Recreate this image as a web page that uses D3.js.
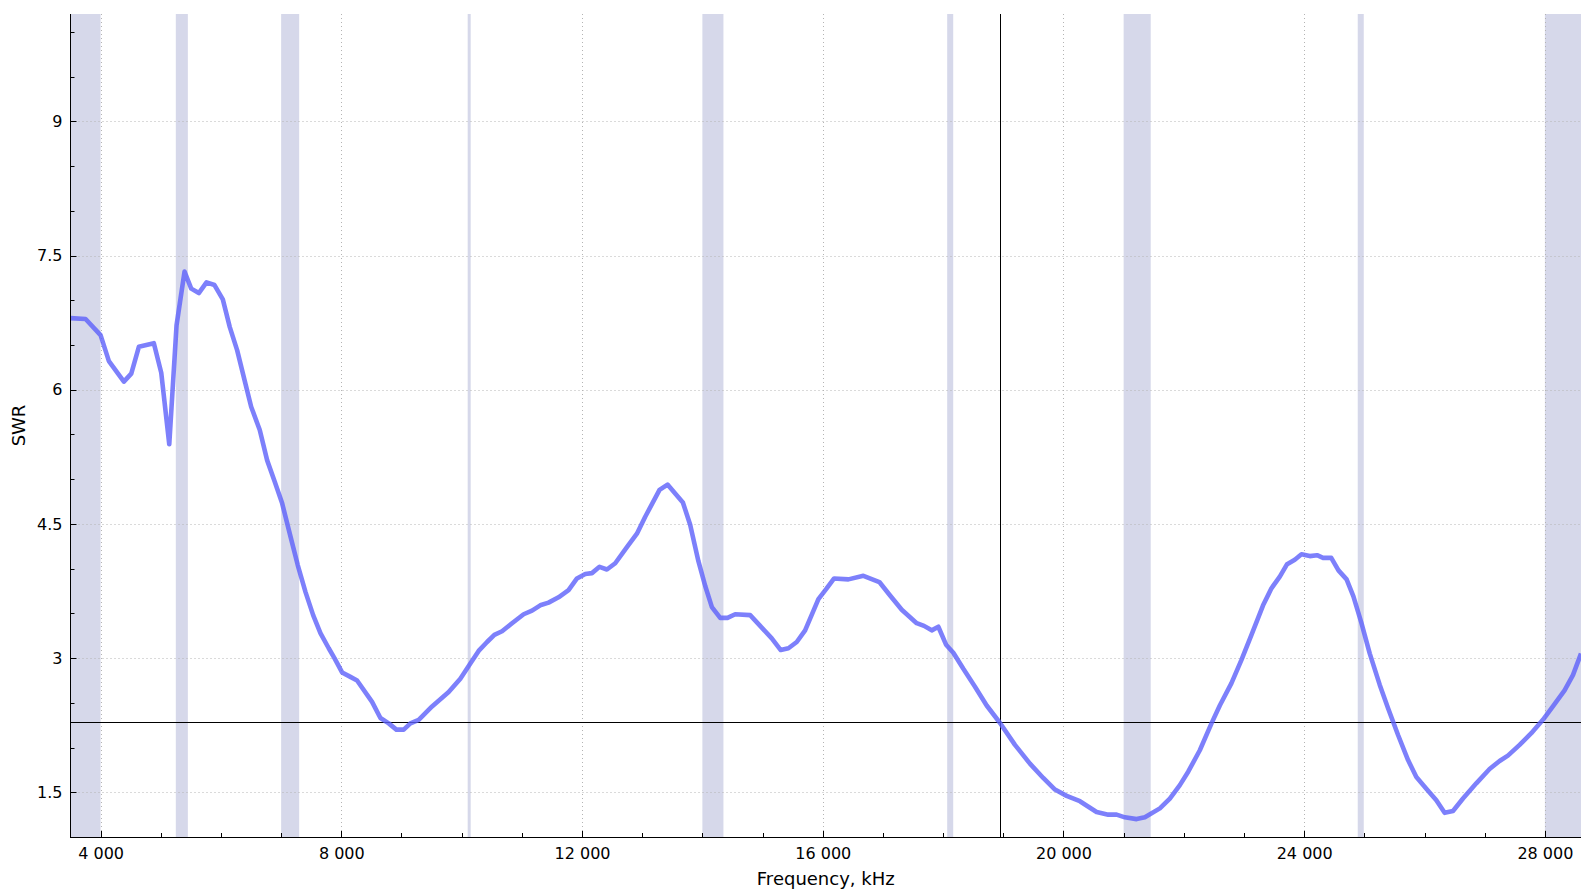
<!DOCTYPE html>
<html><head><meta charset="utf-8">
<script src="https://cdn.jsdelivr.net/npm/d3@7"></script>
<style>
html,body{margin:0;padding:0;background:#fff;}
svg{display:block;}
text{font-family:"DejaVu Sans",Verdana,sans-serif;fill:#000;}
</style></head>
<body>
<svg id="chart" width="1596" height="895"></svg>
<script>
const freqs = [3500,3750,4000,4138,4387,4510,4636,4885,5008,5141,5262,5395,5506,5632,5760,5893,6031,6147,6270,6391,6502,6645,6768,6894,7017,7155,7276,7404,7532,7653,7791,7886,8013,8151,8262,8511,8650,8788,8915,9037,9148,9286,9508,9784,9978,10144,10282,10422,10543,10671,10837,11030,11169,11306,11444,11610,11776,11916,12054,12165,12291,12414,12552,12746,12912,13050,13288,13421,13548,13676,13797,13935,14050,14158,14296,14417,14545,14794,14960,15153,15302,15430,15568,15707,15928,16056,16189,16426,16676,16941,17119,17313,17561,17683,17811,17921,18049,18170,18336,18530,18724,18940,19194,19443,19664,19859,20053,20273,20550,20744,20883,21021,21215,21353,21602,21768,21934,22073,22266,22460,22598,22792,22958,23124,23317,23456,23595,23716,23844,23955,24093,24214,24314,24450,24570,24705,24818,24952,25090,25256,25394,25560,25726,25864,26030,26196,26334,26473,26639,26860,27081,27247,27385,27580,27774,27967,28133,28327,28466,28600];
const swr = [6.80,6.79,6.61,6.32,6.09,6.18,6.48,6.52,6.19,5.39,6.72,7.32,7.13,7.08,7.20,7.17,7.01,6.70,6.44,6.11,5.81,5.55,5.21,4.97,4.73,4.36,4.04,3.74,3.48,3.28,3.11,3.00,2.84,2.79,2.75,2.51,2.33,2.27,2.20,2.20,2.27,2.31,2.46,2.62,2.77,2.94,3.08,3.18,3.26,3.30,3.39,3.49,3.53,3.59,3.62,3.68,3.76,3.89,3.94,3.95,4.02,3.99,4.06,4.24,4.39,4.58,4.88,4.94,4.84,4.74,4.49,4.08,3.80,3.57,3.45,3.45,3.49,3.48,3.36,3.22,3.09,3.11,3.18,3.31,3.66,3.77,3.89,3.88,3.92,3.85,3.70,3.54,3.39,3.36,3.31,3.35,3.15,3.06,2.88,2.68,2.47,2.28,2.03,1.82,1.66,1.53,1.46,1.40,1.28,1.25,1.25,1.22,1.20,1.22,1.32,1.43,1.58,1.73,1.97,2.27,2.47,2.72,2.98,3.26,3.59,3.78,3.91,4.05,4.10,4.16,4.14,4.15,4.12,4.12,3.98,3.88,3.69,3.39,3.05,2.70,2.44,2.14,1.86,1.67,1.54,1.41,1.27,1.29,1.43,1.60,1.76,1.85,1.91,2.03,2.16,2.31,2.46,2.64,2.81,3.05];
const bandStarts = [3500,5250,7000,10100,14000,18068,21000,24890,28000];
const bandEnds   = [4000,5450,7300,10150,14350,18168,21450,24990,29700];
const xTicks = [4000,8000,12000,16000,20000,24000,28000];
const yTicks = [1.5,3,4.5,6,7.5,9];
const cursorFreq = 18940;
const cursorSwr = 2.28;
const xDomain = [3500,28600];
const yDomain = [1.0,10.2];

const svg = d3.select("#chart");
const L=70.5, R=1581, T=14, B=837;
const x = d3.scaleLinear().domain(xDomain).range([L,R]);
const y = d3.scaleLinear().domain(yDomain).range([B,T]);

svg.append("defs").append("clipPath").attr("id","clip")
  .append("rect").attr("x",L).attr("y",T).attr("width",R-L).attr("height",B-T);

const plot = svg.append("g").attr("clip-path","url(#clip)");

// bands
plot.selectAll("rect.band").data(bandStarts.map((s,i)=>[s,bandEnds[i]])).enter()
  .append("rect").attr("class","band")
  .attr("x",d=>x(d[0])).attr("y",T)
  .attr("width",d=>Math.max(1,x(d[1])-x(d[0]))).attr("height",B-T)
  .attr("fill","#d6d8ea");

// grid
const xMinor = d3.range(4000,28600,1000);
const yMinor = d3.range(1.0,10.21,0.5);
plot.selectAll("line.gx").data(xTicks).enter().append("line")
  .attr("x1",d=>Math.round(x(d))+0.5).attr("x2",d=>Math.round(x(d))+0.5)
  .attr("y1",T).attr("y2",B)
  .attr("stroke","#b4b4b4").attr("stroke-width",1).attr("stroke-dasharray","1,3");
plot.selectAll("line.gy").data(yTicks).enter().append("line")
  .attr("y1",d=>Math.round(y(d))+0.5).attr("y2",d=>Math.round(y(d))+0.5)
  .attr("x1",L).attr("x2",R)
  .attr("stroke","#b4b4b4").attr("stroke-width",1).attr("stroke-dasharray","1,3");

// cursor lines
plot.append("line").attr("x1",Math.round(x(cursorFreq))+0.5).attr("x2",Math.round(x(cursorFreq))+0.5)
  .attr("y1",T).attr("y2",B).attr("stroke","#000").attr("stroke-width",1);
plot.append("line").attr("y1",Math.round(y(cursorSwr))+0.5).attr("y2",Math.round(y(cursorSwr))+0.5)
  .attr("x1",L).attr("x2",R).attr("stroke","#000").attr("stroke-width",1);

// data line
const pts = freqs.map((f,i)=>[f,swr[i]]);
plot.append("path").datum(pts)
  .attr("d",d3.line().x(d=>x(d[0])).y(d=>y(d[1])))
  .attr("fill","none").attr("stroke","rgb(92,96,250)").attr("stroke-opacity",0.8)
  .attr("stroke-width",4.6).attr("stroke-linejoin","round").attr("stroke-linecap","butt");

// axes
const xAxis = d3.axisBottom(x).tickValues(xTicks).tickSize(0).tickPadding(10)
  .tickFormat(d=>d3.format(",")(d).replace(/,/g," "));
const gx = svg.append("g").attr("transform",`translate(0,${B+0.5})`).call(xAxis);
gx.select(".domain").remove();
gx.selectAll("text").attr("font-size",16).attr("font-family","DejaVu Sans").attr("fill","#000");
svg.append("line").attr("x1",L).attr("x2",R).attr("y1",B+0.5).attr("y2",B+0.5).attr("stroke","#000");
svg.selectAll("line.xt").data(xMinor).enter().append("line")
  .attr("x1",d=>Math.round(x(d))+0.5).attr("x2",d=>Math.round(x(d))+0.5)
  .attr("y1",B).attr("y2",d=>B-(d%4000===0?6:4)).attr("stroke","#000");

const yAxis = d3.axisLeft(y).tickValues(yTicks).tickSize(0).tickPadding(8)
  .tickFormat(d=>String(d));
const gy = svg.append("g").attr("transform",`translate(${L},0)`).call(yAxis);
gy.select(".domain").remove();
gy.selectAll("text").attr("font-size",16).attr("font-family","DejaVu Sans").attr("fill","#000");
svg.append("line").attr("x1",L).attr("x2",L).attr("y1",T).attr("y2",B+1).attr("stroke","#000");
svg.selectAll("line.yt").data(yMinor).enter().append("line")
  .attr("y1",d=>Math.round(y(d))+0.5).attr("y2",d=>Math.round(y(d))+0.5)
  .attr("x1",L).attr("x2",d=>L+(Math.abs(d/1.5-Math.round(d/1.5))<1e-6?6:4)).attr("stroke","#000");

// labels
svg.append("text").attr("x",(L+R)/2).attr("y",885).attr("text-anchor","middle")
  .attr("font-size",18).text("Frequency, kHz");
svg.append("text").attr("transform",`translate(25,${(T+B)/2}) rotate(-90)`)
  .attr("text-anchor","middle").attr("font-size",18).text("SWR");
</script>
</body></html>
